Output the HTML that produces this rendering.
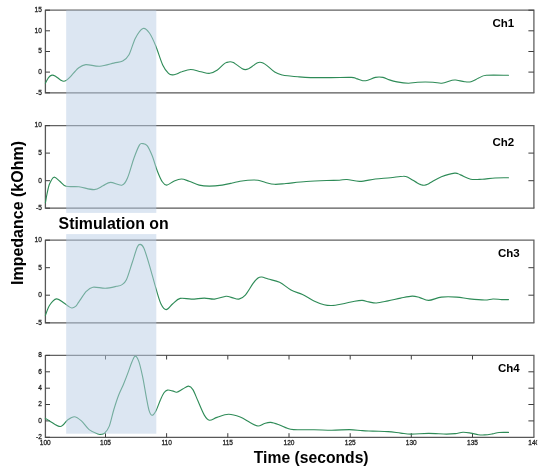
<!DOCTYPE html>
<html><head><meta charset="utf-8"><title>Impedance</title>
<style>
html,body{margin:0;padding:0;background:#fff;}
body{width:550px;height:473px;overflow:hidden;}
svg text{font-family:"Liberation Sans",Arial,sans-serif;}
.tk{font-size:7.8px;fill:#222;stroke:#222;stroke-width:0.3px;}
.ch{font-size:11.5px;font-weight:bold;fill:#000;}
.big{font-size:15.7px;font-weight:bold;fill:#000;}
</style></head><body>
<svg width="550" height="473" viewBox="0 0 550 473" style="display:block">
<rect x="0" y="0" width="550" height="473" fill="#ffffff"/>
<path d="M45.4 10.2H533.9V92.8" fill="none" stroke="#626262" stroke-width="1.3"/>
<path d="M45.4 9.7V92.8H534.4" fill="none" stroke="#585858" stroke-width="1.3" stroke-linejoin="miter"/>
<path d="M45.4 10.2h4.6M533.9 10.2h-5.5M45.4 30.8h4.6M533.9 30.8h-5.5M45.4 51.5h4.6M533.9 51.5h-5.5M45.4 72.1h4.6M533.9 72.1h-5.5M45.4 92.8h4.6" stroke="#3d3d3d" stroke-width="1" fill="none"/>
<path d="M45.4 83.3C45.9 82.3 47.4 79.0 48.5 77.6C49.6 76.2 50.8 75.3 52.0 75.1C53.2 74.9 54.1 75.4 55.5 76.2C56.9 77.0 59.1 79.1 60.5 79.9C61.9 80.7 62.6 81.2 63.6 81.2C64.6 81.2 65.4 80.9 66.6 80.1C67.8 79.3 68.6 78.6 70.5 76.6C72.4 74.6 75.7 70.2 78.2 68.2C80.8 66.2 82.2 64.9 85.8 64.6C89.4 64.3 95.1 66.5 99.8 66.2C104.5 66.0 110.0 64.0 113.8 63.1C117.6 62.2 120.2 62.4 122.7 61.0C125.2 59.6 126.9 58.5 129.0 54.7C131.1 50.9 133.1 42.6 135.4 38.2C137.7 33.8 140.7 29.4 143.0 28.5C145.3 27.6 147.3 30.1 149.4 33.0C151.5 35.9 153.6 40.7 155.8 46.0C158.0 51.3 160.6 60.4 162.7 64.9C164.8 69.5 166.8 71.6 168.5 73.3C170.2 75.0 171.4 74.8 172.7 74.9C174.0 75.0 175.0 74.5 176.5 74.0C178.0 73.5 179.4 72.5 181.8 71.8C184.2 71.0 187.5 69.5 190.7 69.5C193.9 69.5 197.7 71.2 200.9 71.8C204.1 72.4 207.1 73.6 209.8 73.3C212.6 73.0 215.1 71.5 217.4 70.0C219.7 68.5 222.2 65.4 223.8 64.1C225.4 62.8 225.9 62.8 227.0 62.4C228.1 62.0 229.1 61.7 230.2 61.7C231.3 61.7 232.3 62.1 233.4 62.6C234.5 63.1 235.3 63.9 236.8 64.9C238.3 65.9 240.9 67.9 242.3 68.7C243.7 69.5 244.4 69.6 245.4 69.6C246.4 69.6 247.3 69.3 248.5 68.8C249.7 68.2 250.9 67.3 252.3 66.3C253.7 65.3 255.7 63.7 257.0 63.0C258.3 62.3 259.0 62.2 260.0 62.2C261.0 62.2 261.8 62.4 263.0 63.0C264.2 63.6 265.1 64.1 267.0 65.6C268.9 67.1 272.1 70.4 274.7 72.0C277.2 73.6 279.8 74.3 282.3 75.0C284.9 75.7 287.4 75.7 290.0 76.0C292.6 76.3 294.4 76.5 297.8 76.8C301.2 77.1 305.0 77.5 310.5 77.6C316.0 77.7 324.1 77.6 330.9 77.6C337.7 77.6 347.0 77.2 351.2 77.4C355.4 77.6 354.4 78.0 356.3 78.6C358.2 79.1 360.8 80.4 362.7 80.7C364.6 81.0 365.7 80.8 367.8 80.2C369.9 79.7 372.9 77.9 375.4 77.4C377.9 76.9 380.7 77.0 383.0 77.4C385.3 77.8 387.1 79.2 389.4 79.9C391.7 80.7 393.8 81.4 397.0 81.9C400.2 82.5 405.1 83.2 408.5 83.2C411.9 83.2 413.5 82.4 417.6 82.2C421.7 82.0 428.9 82.0 432.9 82.2C436.9 82.4 438.6 83.5 441.8 83.2C445.0 82.9 449.5 80.7 452.0 80.2C454.5 79.7 454.9 80.0 457.0 80.2C459.1 80.5 462.4 81.5 464.7 81.7C467.0 82.0 468.7 82.3 471.0 81.7C473.3 81.1 476.1 79.2 478.7 78.1C481.2 77.0 481.3 75.8 486.3 75.3C491.3 74.8 504.8 75.3 508.5 75.3" stroke="#2e8b57" stroke-width="1.12" fill="none" stroke-linejoin="round" stroke-linecap="round"/>
<text class="tk" text-anchor="end" transform="translate(41.9 12.0) scale(0.84 1)">15</text>
<text class="tk" text-anchor="end" transform="translate(41.9 32.6) scale(0.84 1)">10</text>
<text class="tk" text-anchor="end" transform="translate(41.9 53.3) scale(0.84 1)">5</text>
<text class="tk" text-anchor="end" transform="translate(41.9 73.9) scale(0.84 1)">0</text>
<text class="tk" text-anchor="end" transform="translate(41.9 94.5) scale(0.84 1)">-5</text>
<text class="ch" x="492.5" y="27.2">Ch1</text>
<path d="M45.4 125.6H533.9V208.2" fill="none" stroke="#626262" stroke-width="1.3"/>
<path d="M45.4 125.1V208.2H534.4" fill="none" stroke="#585858" stroke-width="1.3" stroke-linejoin="miter"/>
<path d="M45.4 125.6h4.6M45.4 153.1h4.6M533.9 153.1h-5.5M45.4 180.7h4.6M533.9 180.7h-5.5M45.4 208.2h4.6" stroke="#3d3d3d" stroke-width="1" fill="none"/>
<path d="M45.4 202.9C45.7 201.4 46.3 197.2 47.0 194.0C47.7 190.8 48.4 186.6 49.6 183.8C50.8 181.0 52.3 177.6 54.0 177.2C55.7 176.8 57.8 179.7 59.8 181.2C61.8 182.7 63.0 185.4 66.2 186.3C69.4 187.2 74.2 186.2 78.9 186.8C83.6 187.4 90.1 189.8 94.1 189.6C98.1 189.4 100.3 187.0 103.0 185.8C105.7 184.6 107.4 182.5 110.5 182.4C113.6 182.3 119.0 185.9 121.8 185.2C124.6 184.5 125.5 182.5 127.5 178.0C129.5 173.5 132.0 163.5 134.0 158.0C136.0 152.5 138.0 147.5 139.4 145.1C140.8 142.7 141.4 143.5 142.7 143.6C144.0 143.7 145.5 143.6 147.1 145.6C148.7 147.6 150.5 151.6 152.2 155.8C153.9 160.0 155.6 166.7 157.3 171.0C159.0 175.3 160.7 179.5 162.3 181.8C163.9 184.2 164.8 185.2 166.7 185.1C168.6 185.0 171.4 182.2 173.8 181.2C176.2 180.2 178.9 179.0 181.4 179.0C183.9 179.0 186.1 180.2 189.1 181.2C192.1 182.2 195.8 184.3 199.2 185.1C202.6 185.9 205.6 186.1 209.4 186.1C213.2 186.1 218.3 185.6 222.1 185.1C225.9 184.6 229.3 183.7 232.3 183.0C235.3 182.3 237.4 181.7 240.0 181.2C242.6 180.7 244.8 180.4 247.8 180.2C250.8 180.0 255.0 179.8 258.0 180.2C261.0 180.6 262.9 181.8 265.6 182.5C268.4 183.2 271.1 184.1 274.5 184.3C277.9 184.5 280.7 184.0 286.0 183.5C291.3 183.0 299.5 182.0 306.3 181.5C313.1 181.0 321.2 180.7 326.7 180.5C332.2 180.3 336.0 180.4 339.4 180.2C342.8 180.0 343.6 179.3 347.0 179.5C350.4 179.7 355.1 181.5 359.8 181.4C364.5 181.3 370.2 179.6 375.3 179.0C380.4 178.4 385.8 178.2 390.5 177.7C395.2 177.2 400.3 176.2 403.3 176.2C406.3 176.1 406.0 176.3 408.3 177.4C410.6 178.5 415.2 181.8 417.3 183.0C419.4 184.2 419.8 184.3 421.0 184.7C422.2 185.1 423.2 185.3 424.3 185.2C425.4 185.1 426.5 184.8 427.6 184.3C428.8 183.8 428.9 183.5 431.2 182.2C433.5 180.9 437.5 178.2 441.4 176.7C445.3 175.2 451.5 173.4 454.7 173.1C457.9 172.8 457.8 173.9 460.5 174.9C463.2 175.9 467.1 178.5 470.7 179.2C474.3 179.9 478.1 179.4 482.1 179.2C486.2 179.0 490.6 178.2 495.0 178.0C499.4 177.8 506.2 177.8 508.5 177.7" stroke="#2e8b57" stroke-width="1.12" fill="none" stroke-linejoin="round" stroke-linecap="round"/>
<text class="tk" text-anchor="end" transform="translate(41.9 127.4) scale(0.84 1)">10</text>
<text class="tk" text-anchor="end" transform="translate(41.9 154.9) scale(0.84 1)">5</text>
<text class="tk" text-anchor="end" transform="translate(41.9 182.5) scale(0.84 1)">0</text>
<text class="tk" text-anchor="end" transform="translate(41.9 210.0) scale(0.84 1)">-5</text>
<text class="ch" x="492.5" y="146.1">Ch2</text>
<path d="M45.4 240.2H533.9V322.8" fill="none" stroke="#626262" stroke-width="1.3"/>
<path d="M45.4 239.7V322.8H534.4" fill="none" stroke="#585858" stroke-width="1.3" stroke-linejoin="miter"/>
<path d="M45.4 240.2h4.6M45.4 267.7h4.6M533.9 267.7h-5.5M45.4 295.2h4.6M533.9 295.2h-5.5M45.4 322.8h4.6" stroke="#3d3d3d" stroke-width="1" fill="none"/>
<path d="M45.4 315.4C46.1 313.7 47.8 307.9 49.6 305.2C51.5 302.4 54.2 299.3 56.5 298.9C58.8 298.5 61.7 301.5 63.6 302.7C65.5 303.9 66.6 305.1 68.0 306.0C69.4 306.9 70.5 307.9 71.8 308.0C73.1 308.1 74.4 307.4 75.6 306.4C76.8 305.4 77.1 304.3 78.9 301.8C80.7 299.3 84.2 293.6 86.5 291.2C88.8 288.8 89.8 287.7 92.9 287.2C96.0 286.7 101.4 288.3 105.3 288.2C109.2 288.1 113.8 286.9 116.5 286.3C119.2 285.8 119.9 286.0 121.6 284.9C123.2 283.8 124.7 283.4 126.4 279.8C128.1 276.2 130.2 268.7 132.0 263.3C133.8 257.9 135.8 250.7 137.1 247.5C138.4 244.3 138.9 244.3 140.0 244.4C141.1 244.5 142.2 244.4 143.8 248.0C145.4 251.6 147.6 259.0 149.6 265.8C151.6 272.6 154.1 282.3 156.0 288.7C157.9 295.1 159.3 300.5 161.0 304.0C162.7 307.5 164.3 309.6 166.2 309.6C168.1 309.6 170.2 305.9 172.5 304.0C174.8 302.1 177.0 299.2 180.2 298.4C183.4 297.6 187.6 299.2 191.6 299.1C195.6 299.1 200.5 298.1 204.3 298.1C208.1 298.1 210.9 299.4 214.5 299.1C218.1 298.8 223.1 296.6 226.0 296.3C228.9 296.1 229.8 297.1 232.0 297.6C234.2 298.1 236.7 299.5 238.9 299.1C241.1 298.7 243.0 297.7 245.3 295.1C247.6 292.5 250.8 286.5 252.9 283.6C255.0 280.8 256.5 279.1 258.0 278.0C259.5 276.9 260.1 276.8 261.8 277.0C263.5 277.2 265.2 278.1 268.2 279.0C271.2 279.9 275.8 280.5 279.6 282.3C283.4 284.1 287.2 287.9 291.0 290.0C294.8 292.1 298.7 292.8 302.5 294.6C306.3 296.4 310.4 299.2 314.0 300.9C317.6 302.6 321.1 303.9 324.1 304.7C327.1 305.5 328.8 305.6 331.8 305.5C334.8 305.4 338.2 304.7 342.0 304.0C345.8 303.3 351.3 301.8 354.7 301.2C358.1 300.6 359.9 300.3 362.3 300.4C364.7 300.5 366.5 301.5 368.9 301.9C371.3 302.3 373.3 303.2 376.5 303.0C379.7 302.8 384.0 301.7 388.0 300.9C392.0 300.1 396.7 298.9 400.7 298.1C404.7 297.3 409.0 296.2 412.2 296.1C415.4 296.0 417.1 296.9 419.8 297.6C422.6 298.3 425.1 300.5 428.7 300.4C432.3 300.3 436.7 297.7 441.4 297.1C446.1 296.6 452.0 296.8 456.7 297.1C461.4 297.4 464.7 298.4 469.4 298.9C474.1 299.4 480.8 300.0 484.7 300.0C488.6 300.0 490.2 299.1 493.0 299.0C495.8 298.9 499.0 299.5 501.6 299.6C504.2 299.7 507.4 299.6 508.5 299.6" stroke="#2e8b57" stroke-width="1.12" fill="none" stroke-linejoin="round" stroke-linecap="round"/>
<text class="tk" text-anchor="end" transform="translate(41.9 242.0) scale(0.84 1)">10</text>
<text class="tk" text-anchor="end" transform="translate(41.9 269.5) scale(0.84 1)">5</text>
<text class="tk" text-anchor="end" transform="translate(41.9 297.0) scale(0.84 1)">0</text>
<text class="tk" text-anchor="end" transform="translate(41.9 324.6) scale(0.84 1)">-5</text>
<text class="ch" x="497.9" y="256.9">Ch3</text>
<path d="M45.4 355.4H533.9V437.3" fill="none" stroke="#626262" stroke-width="1.3"/>
<path d="M45.4 354.9V437.3H534.4" fill="none" stroke="#585858" stroke-width="1.3" stroke-linejoin="miter"/>
<path d="M45.4 355.4h4.6M45.4 371.8h4.6M533.9 371.8h-5.5M45.4 388.2h4.6M533.9 388.2h-5.5M45.4 404.5h4.6M533.9 404.5h-5.5M45.4 420.9h4.6M533.9 420.9h-5.5M45.4 437.3h4.6M105.5 355.4v4.1M105.5 437.3v-4.1M166.6 355.4v4.1M166.6 437.3v-4.1M227.8 355.4v4.1M227.8 437.3v-4.1M289.0 355.4v4.1M289.0 437.3v-4.1M350.2 355.4v4.1M350.2 437.3v-4.1M411.3 355.4v4.1M411.3 437.3v-4.1M472.5 355.4v4.1M472.5 437.3v-4.1" stroke="#3d3d3d" stroke-width="1" fill="none"/>
<path d="M45.4 418.4C46.1 418.8 47.1 419.5 49.6 420.9C52.1 422.2 57.3 426.6 60.3 426.5C63.3 426.4 65.1 421.8 67.4 420.2C69.7 418.6 72.0 416.7 74.3 416.8C76.6 416.9 78.9 418.8 81.4 420.9C83.9 423.0 86.3 427.4 89.1 429.6C91.9 431.8 95.9 433.3 98.0 434.1C100.1 434.9 100.4 434.4 101.5 434.2C102.6 434.0 103.3 434.5 104.6 433.2C105.9 431.9 107.7 430.1 109.3 426.1C110.9 422.1 112.4 414.2 114.0 409.0C115.6 403.8 117.2 398.8 118.8 394.7C120.4 390.6 121.9 388.0 123.5 384.2C125.1 380.4 126.9 375.7 128.3 371.9C129.7 368.1 130.9 364.0 132.1 361.4C133.3 358.8 134.2 356.1 135.3 356.1C136.4 356.1 137.6 358.0 138.8 361.4C140.0 364.8 141.3 370.6 142.6 376.6C143.9 382.6 145.3 391.9 146.4 397.6C147.5 403.3 148.2 407.9 149.2 410.9C150.1 413.8 151.0 415.3 152.1 415.3C153.2 415.3 154.5 413.5 155.9 410.9C157.3 408.3 159.2 402.5 160.6 399.5C161.9 396.5 162.9 394.4 164.0 392.8C165.1 391.2 166.0 390.4 167.4 390.1C168.8 389.8 170.9 390.5 172.5 390.9C174.1 391.2 175.1 392.5 176.8 392.2C178.5 391.9 180.8 390.1 182.7 389.1C184.6 388.1 186.8 386.0 188.5 386.1C190.2 386.2 191.3 387.1 192.9 389.6C194.5 392.1 196.1 396.9 198.0 401.1C199.9 405.4 202.4 411.9 204.3 415.1C206.2 418.3 207.3 419.8 209.4 420.2C211.5 420.6 213.8 418.4 217.0 417.4C220.2 416.4 224.6 414.4 228.5 414.3C232.4 414.2 236.5 415.7 240.2 417.1C243.8 418.5 247.4 421.2 250.4 422.7C253.4 424.2 255.7 425.9 258.0 426.0C260.3 426.1 262.3 424.1 264.4 423.5C266.5 422.9 268.4 422.2 270.7 422.4C273.0 422.6 275.5 423.5 278.3 424.5C281.1 425.5 284.8 427.4 287.3 428.3C289.9 429.2 289.2 429.4 293.6 429.6C298.1 429.9 307.6 429.7 314.0 429.8C320.4 429.9 325.9 430.3 331.8 430.3C337.7 430.3 344.5 429.6 349.6 429.6C354.7 429.7 358.5 430.4 362.3 430.6C366.1 430.9 368.4 430.9 372.7 431.1C377.0 431.3 383.3 431.3 388.0 431.6C392.7 431.9 396.9 432.7 400.7 433.1C404.5 433.5 406.2 434.1 410.9 434.1C415.6 434.2 422.8 433.4 428.7 433.4C434.6 433.4 442.1 434.1 446.5 434.1C450.9 434.1 452.6 433.9 455.4 433.6C458.1 433.3 460.4 432.4 463.0 432.3C465.6 432.2 468.1 432.7 470.7 433.1C473.2 433.5 476.0 434.4 478.3 434.7C480.6 435.0 482.4 435.0 484.7 434.9C487.0 434.8 489.9 434.3 492.3 433.9C494.7 433.5 496.3 432.8 499.0 432.5C501.7 432.2 506.9 432.4 508.5 432.4" stroke="#2e8b57" stroke-width="1.12" fill="none" stroke-linejoin="round" stroke-linecap="round"/>
<text class="tk" text-anchor="end" transform="translate(41.9 357.2) scale(0.84 1)">8</text>
<text class="tk" text-anchor="end" transform="translate(41.9 373.6) scale(0.84 1)">6</text>
<text class="tk" text-anchor="end" transform="translate(41.9 390.0) scale(0.84 1)">4</text>
<text class="tk" text-anchor="end" transform="translate(41.9 406.3) scale(0.84 1)">2</text>
<text class="tk" text-anchor="end" transform="translate(41.9 422.7) scale(0.84 1)">0</text>
<text class="tk" text-anchor="end" transform="translate(41.9 439.1) scale(0.84 1)">-2</text>
<text class="ch" x="497.9" y="372.3">Ch4</text>
<text class="tk" text-anchor="middle" transform="translate(45.2 445.4) scale(0.84 1)">100</text>
<text class="tk" text-anchor="middle" transform="translate(105.5 445.4) scale(0.84 1)">105</text>
<text class="tk" text-anchor="middle" transform="translate(166.6 445.4) scale(0.84 1)">110</text>
<text class="tk" text-anchor="middle" transform="translate(227.8 445.4) scale(0.84 1)">115</text>
<text class="tk" text-anchor="middle" transform="translate(289.0 445.4) scale(0.84 1)">120</text>
<text class="tk" text-anchor="middle" transform="translate(350.2 445.4) scale(0.84 1)">125</text>
<text class="tk" text-anchor="middle" transform="translate(411.3 445.4) scale(0.84 1)">130</text>
<text class="tk" text-anchor="middle" transform="translate(472.5 445.4) scale(0.84 1)">135</text>
<text class="tk" text-anchor="middle" transform="translate(533.7 445.4) scale(0.84 1)">140</text>
<rect x="66.2" y="10.3" width="90.1" height="202.6" fill="#b9cde5" fill-opacity="0.5"/>
<rect x="66.2" y="234.1" width="90.1" height="199.6" fill="#b9cde5" fill-opacity="0.5"/>
<rect x="537.2" y="438" width="12.8" height="12" fill="#ffffff"/>
<text class="big" style="font-size:15.85px" x="58.6" y="229">Stimulation on</text>
<text class="big" x="253.8" y="462.7">Time (seconds)</text>
<text class="big" style="font-size:16px" text-anchor="middle" transform="translate(23.3 213) rotate(-90)">Impedance (kOhm)</text>
</svg>
</body></html>
